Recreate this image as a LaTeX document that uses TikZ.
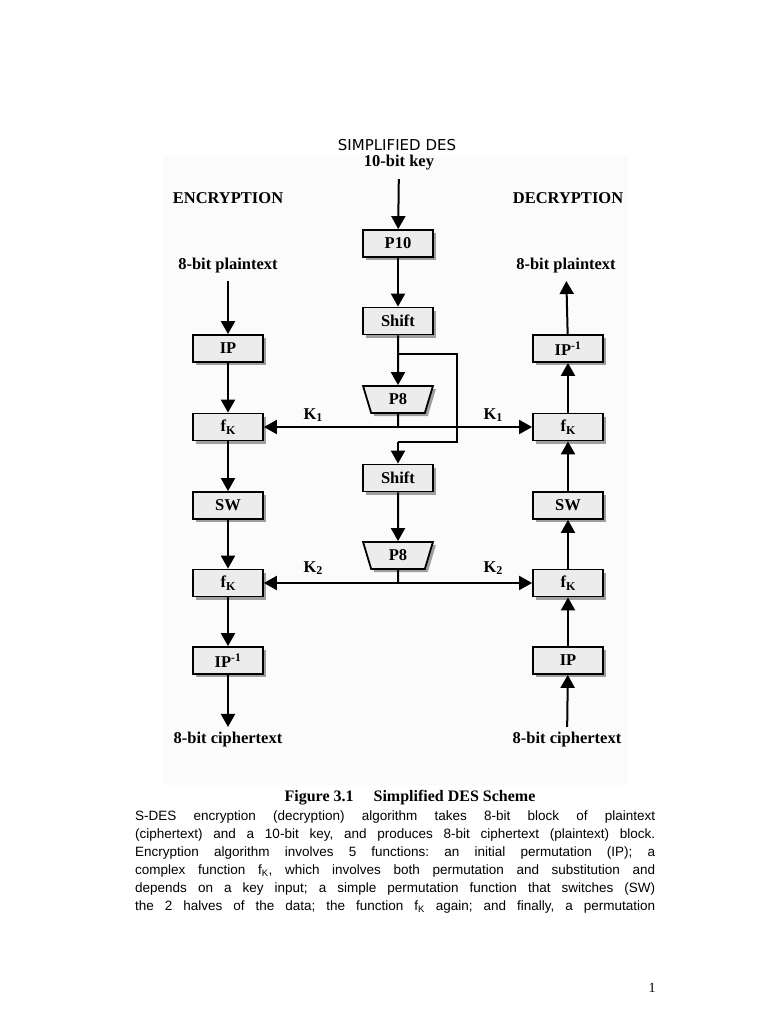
\documentclass[tikz,border=0pt]{standalone}
\usepackage{fontspec}
\setmainfont{Liberation Serif}
\newfontfamily\parafont{Liberation Sans}
\newfontfamily\headfont{DejaVu Sans}
\usepackage{tikz}
\usetikzlibrary{arrows.meta,shapes.geometric,shadows}
\frenchspacing
\newcommand\lbl{\fontsize{16.5}{18}\selectfont\bfseries}
\newcommand\lowsub[1]{\raisebox{-0.35ex}{\fontsize{12}{12}\selectfont #1}}
\newcommand\pline[1]{\hbox to 520pt{#1}}
\tikzset{
  blk/.style={draw, line width=1.8pt, fill=gray!15, minimum width=70pt,
    minimum height=27pt, inner sep=0pt, font=\lbl,
    drop shadow={shadow xshift=3pt, shadow yshift=-3pt, fill=gray!75, opacity=1}},
  pbox/.style={blk, trapezium, shape border rotate=180, trapezium left angle=76,
    trapezium right angle=76, trapezium stretches=true},
  lab/.style={font=\lbl},
  arr/.style={line width=2pt, -{Triangle[length=13pt,width=14pt]}},
  ln/.style={line width=2pt},
  para/.style={anchor=west, inner sep=0pt, font=\parafont\fontsize{13.5}{15}\selectfont}
}
\begin{document}
\begin{tikzpicture}[x=1pt,y=-1pt]
  \useasboundingbox (0,0) rectangle (768,1024);
  % faint figure background
  \fill[gray!3] (163,155) rectangle (628,785);
  % Titles
  \node[inner sep=0.5pt] (title) at (397,145) {\headfont\fontsize{15}{16}\selectfont SIMPLIFIED DES};
  \node[lab, inner sep=0.5pt] (key) at (399,163) {10-bit key};
  \node[lab] (enc) at (228,198) {ENCRYPTION};
  \node[lab] (dec) at (568,198) {DECRYPTION};
  \node[lab] (ptL) at (228,266) {8-bit plaintext};
  \node[lab] (ptR) at (566,266) {8-bit plaintext};
  \node[lab] (ctL) at (228,740) {8-bit ciphertext};
  \node[lab] (ctR) at (567,740) {8-bit ciphertext};
  % Key generation column
  \node[blk] (p10) at (398,243.5) {P10};
  \node[blk] (shiftA) at (398,321) {Shift};
  \node[pbox] (p8A) at (398,399.5) {P8};
  \node[blk] (shiftB) at (398,478) {Shift};
  \node[pbox] (p8B) at (398,555.5) {P8};
  \coordinate (brA) at (398,354);
  \coordinate (brB) at (398,442);
  \coordinate (jA) at (398,427);
  \coordinate (jB) at (398,583);
  % Encryption column
  \node[blk] (ipL) at (228,348.5) {IP};
  \node[blk] (fkAL) at (228,427) {f\lowsub{K}};
  \node[blk] (swL) at (228,505.5) {SW};
  \node[blk] (fkBL) at (228,583) {f\lowsub{K}};
  \node[blk] (ipiL) at (228,660.5) {IP\textsuperscript{-1}};
  % Decryption column
  \node[blk] (ipiR) at (568,348.5) {IP\textsuperscript{-1}};
  \node[blk] (fkAR) at (568,427) {f\lowsub{K}};
  \node[blk] (swR) at (568,505.5) {SW};
  \node[blk] (fkBR) at (568,583) {f\lowsub{K}};
  \node[blk] (ipR) at (568,660.5) {IP};
  % Key arrows
  \draw[arr, shorten <=8pt] (key) -- (p10);
  \draw[arr] (p10) -- (shiftA);
  \draw[arr] (shiftA) -- (p8A);
  \draw[ln] (brA) -- ++(59,0) -- ++(0,88) -- (brB);
  \draw[arr] (brB) -- (shiftB);
  \draw[arr] (shiftB) -- (p8B);
  \draw[ln] (p8A) -- (jA);
  \draw[ln] (p8B) -- (jB);
  \draw[arr] (jA) -- (fkAL);
  \draw[arr] (jA) -- (fkAR);
  \draw[arr] (jB) -- (fkBL);
  \draw[arr] (jB) -- (fkBR);
  \node[lab] (kAL) at (313,415) {K\lowsub{1}};
  \node[lab] (kAR) at (493,415) {K\lowsub{1}};
  \node[lab] (kBL) at (313,568) {K\lowsub{2}};
  \node[lab] (kBR) at (493,568) {K\lowsub{2}};
  % Encryption flow (down)
  \draw[arr, shorten <=4pt] (ptL) -- (ipL);
  \draw[arr] (ipL) -- (fkAL);
  \draw[arr] (fkAL) -- (swL);
  \draw[arr] (swL) -- (fkBL);
  \draw[arr] (fkBL) -- (ipiL);
  \draw[arr, shorten >=2pt] (ipiL) -- (ctL);
  % Decryption flow (up)
  \draw[arr, shorten <=2pt] (ctR) -- (ipR);
  \draw[arr] (ipR) -- (fkBR);
  \draw[arr] (fkBR) -- (swR);
  \draw[arr] (swR) -- (fkAR);
  \draw[arr] (fkAR) -- (ipiR);
  \draw[arr, shorten >=4pt] (ipiR) -- (ptR);
  % Caption and text
  \node[font=\fontsize{16}{18}\selectfont\bfseries] (cap) at (410,798)
    {Figure 3.1\hspace{20pt}Simplified DES Scheme};
  \node[para] (tA) at (135,817) {\pline{S-DES encryption (decryption) algorithm takes 8-bit block of plaintext}};
  \node[para] (tB) at (135,835) {\pline{(ciphertext) and a 10-bit key, and produces 8-bit ciphertext (plaintext) block.}};
  \node[para] (tC) at (135,853) {\pline{Encryption algorithm involves 5 functions: an initial permutation (IP); a}};
  \node[para] (tD) at (135,871) {\pline{complex function f\textsubscript{K}, which involves both permutation and substitution and}};
  \node[para] (tE) at (135,889) {\pline{depends on a key input; a simple permutation function that switches (SW)}};
  \node[para] (tF) at (135,907) {\pline{the 2 halves of the data; the function f\textsubscript{K} again; and finally, a permutation}};
  \node[font=\fontsize{14}{14}\selectfont] (pg) at (652,988) {1};
\end{tikzpicture}
\end{document}
